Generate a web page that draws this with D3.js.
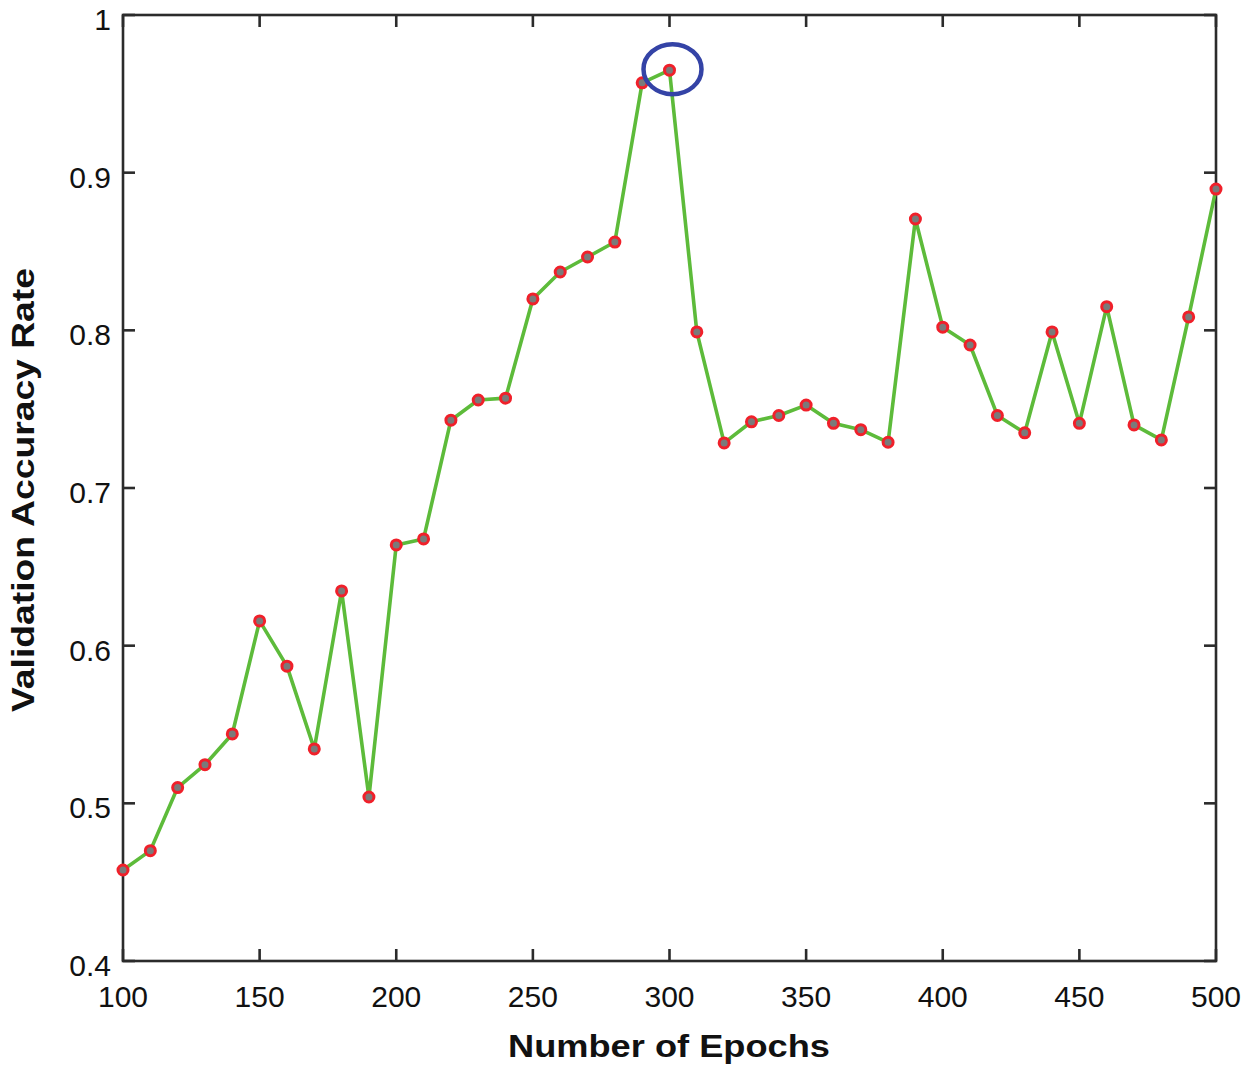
<!DOCTYPE html>
<html>
<head>
<meta charset="utf-8">
<script src="https://cdn.jsdelivr.net/npm/d3@7/dist/d3.min.js"></script>
<style>
  html, body { margin: 0; padding: 0; background: #fff; }
  svg { display: block; }
</style>
</head>
<body>
<svg id="chart" width="1245" height="1073"></svg>
<script>
const epochs = [100,110,120,130,140,150,160,170,180,190,200,210,220,230,240,250,260,270,280,290,300,310,320,330,340,350,360,370,380,390,400,410,420,430,440,450,460,470,480,490,500];
const accuracy = [0.4577,0.470,0.510,0.5245,0.544,0.6157,0.587,0.5345,0.6347,0.504,0.6639,0.6677,0.743,0.7558,0.757,0.8199,0.837,0.8465,0.856,0.957,0.965,0.799,0.7286,0.742,0.746,0.7526,0.741,0.737,0.729,0.8706,0.802,0.7907,0.746,0.735,0.799,0.741,0.815,0.740,0.7305,0.8085,0.8896];
const xTicks = [100,150,200,250,300,350,400,450,500];
const yTicks = [0.4,0.5,0.6,0.7,0.8,0.9,1];
const yTickLabels = ["0.4","0.5","0.6","0.7","0.8","0.9","1"];
const highlightEpoch = 300;
const xTitle = "Number of Epochs";
const yTitle = "Validation Accuracy Rate";

(function () {
const svg = d3.select("#chart");
const pL = 123, pR = 1216, pT = 15, pB = 961;
const x = d3.scaleLinear().domain([100, 500]).range([pL, pR]);
const y = d3.scaleLinear().domain([0.4, 1]).range([pB, pT]);
const font = "Liberation Sans, Arial, Helvetica, sans-serif";
const axisColor = "#2b2b2b";
const tickLen = 12;

// frame
svg.append("rect").attr("x", pL).attr("y", pT).attr("width", pR - pL).attr("height", pB - pT)
  .attr("fill", "none").attr("stroke", axisColor).attr("stroke-width", 2.6);

// ticks (inward on all four sides)
const g = svg.append("g").attr("stroke", axisColor).attr("stroke-width", 2.6);
xTicks.forEach(t => {
  g.append("line").attr("x1", x(t)).attr("x2", x(t)).attr("y1", pB).attr("y2", pB - tickLen);
  g.append("line").attr("x1", x(t)).attr("x2", x(t)).attr("y1", pT).attr("y2", pT + tickLen);
});
yTicks.forEach(t => {
  g.append("line").attr("x1", pL).attr("x2", pL + tickLen).attr("y1", y(t)).attr("y2", y(t));
  g.append("line").attr("x1", pR).attr("x2", pR - tickLen).attr("y1", y(t)).attr("y2", y(t));
});

// tick labels
svg.append("g").selectAll("text").data(xTicks).join("text")
  .attr("x", d => x(d)).attr("y", pB + 46)
  .attr("text-anchor", "middle").attr("font-family", font).attr("font-size", 30)
  .attr("fill", "#111").text(d => d);
svg.append("g").selectAll("text").data(yTicks).join("text")
  .attr("x", pL - 12).attr("y", d => y(d) + 15)
  .attr("text-anchor", "end").attr("font-family", font).attr("font-size", 30)
  .attr("fill", "#111").text((d, i) => yTickLabels[i]);

// axis titles
svg.append("text").attr("x", 669).attr("y", 1057)
  .attr("text-anchor", "middle").attr("font-family", font).attr("font-size", 31)
  .attr("font-weight", "bold").attr("fill", "#111")
  .attr("textLength", 322).attr("lengthAdjust", "spacingAndGlyphs").text(xTitle);
svg.append("text").attr("transform", "translate(34,490) rotate(-90)")
  .attr("text-anchor", "middle").attr("font-family", font).attr("font-size", 31)
  .attr("font-weight", "bold").attr("fill", "#111")
  .attr("textLength", 444).attr("lengthAdjust", "spacingAndGlyphs").text(yTitle);

// line
const pts = epochs.map((e, i) => [e, accuracy[i]]);
svg.append("path").datum(pts)
  .attr("d", d3.line().x(d => x(d[0])).y(d => y(d[1])))
  .attr("fill", "none").attr("stroke", "#5dbb3a").attr("stroke-width", 3.6)
  .attr("stroke-linejoin", "round");

// markers
svg.append("g").selectAll("circle").data(pts).join("circle")
  .attr("cx", d => x(d[0])).attr("cy", d => y(d[1])).attr("r", 5)
  .attr("fill", "#7a7a7a").attr("stroke", "#f0202a").attr("stroke-width", 3);

// highlight ellipse
const hi = epochs.indexOf(highlightEpoch);
svg.append("ellipse")
  .attr("cx", x(highlightEpoch) + 3).attr("cy", y(accuracy[hi]) - 1)
  .attr("rx", 29).attr("ry", 25)
  .attr("fill", "none").attr("stroke", "#3443a6").attr("stroke-width", 4.5);
})();
</script>
</body>
</html>
